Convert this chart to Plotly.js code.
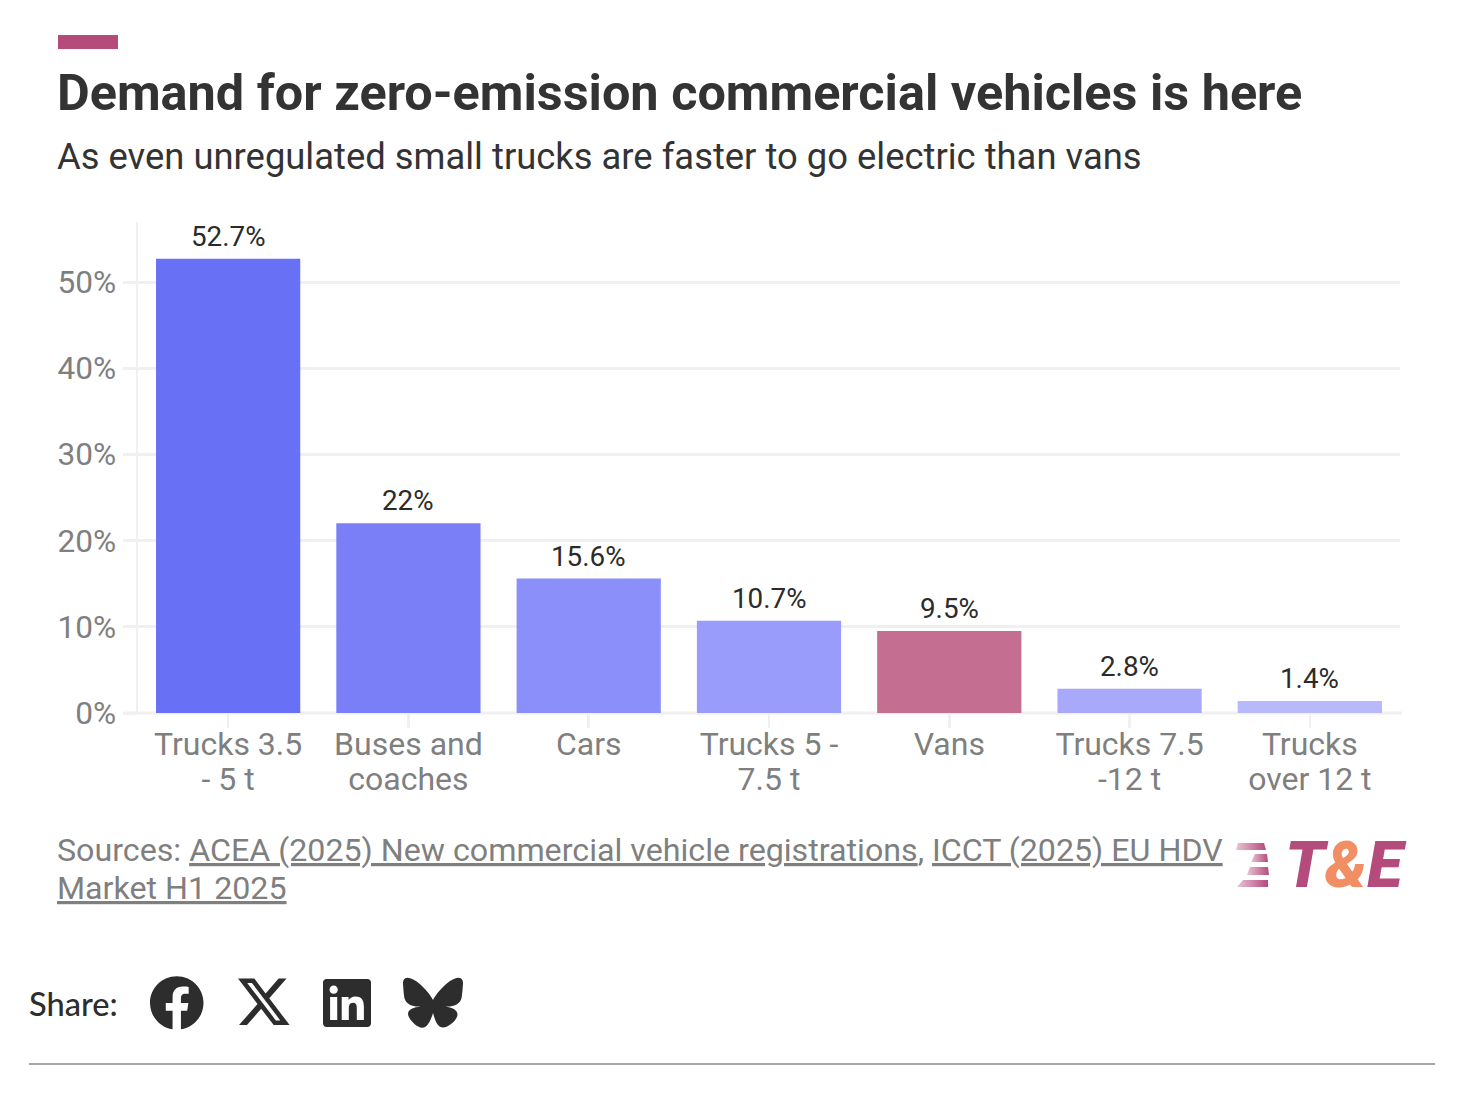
<!DOCTYPE html>
<html>
<head>
<meta charset="utf-8">
<script src="https://cdn.plot.ly/plotly-3.0.1.min.js"></script>
<style>
html,body{margin:0;padding:0;background:#fff;overflow:hidden}
#wrap{position:relative;width:1480px;height:1099px}
#chart{position:absolute;left:0;top:0;width:1480px;height:1099px}
svg.ov{position:absolute;overflow:visible}
</style>
</head>
<body>
<div id="wrap">
<div id="chart"></div>
<svg class="ov" style="left:0;top:0" width="1480" height="1099" viewBox="0 0 1480 1099">
  <defs>
    <linearGradient id="st" x1="0" x2="1" y1="0" y2="0">
      <stop offset="0" stop-color="#e9c3d5"/><stop offset="1" stop-color="#b44b7b"/>
    </linearGradient>
  </defs>
  <polygon fill="url(#st)" points="1238,843 1264,843 1266,850 1236,850"/>
  <polygon fill="url(#st)" points="1255,854 1267,854 1268,862 1251,862"/>
  <polygon fill="url(#st)" points="1250,867 1268,867 1269,875 1247,875"/>
  <polygon fill="url(#st)" points="1243,880 1268,880 1268,887 1237,887"/>
  <g fill="#2d2d2d">
    <path transform="translate(150,976) scale(2.23)" d="M24 12.073c0-6.627-5.373-12-12-12s-12 5.373-12 12c0 5.99 4.388 10.954 10.125 11.854v-8.385H7.078v-3.47h3.047V9.43c0-3.007 1.792-4.669 4.533-4.669 1.312 0 2.686.235 2.686.235v2.953H15.83c-1.491 0-1.956.925-1.956 1.874v2.25h3.328l-.532 3.47h-2.796v8.385C19.612 23.027 24 18.062 24 12.073z"/>
    <path transform="translate(238,976) scale(2.15)" d="M18.901 1.153h3.68l-8.04 9.19L24 22.846h-7.406l-5.8-7.584-6.638 7.584H.474l8.6-9.83L0 1.154h7.594l5.243 6.932ZM17.61 20.644h2.039L6.486 3.24H4.298Z"/>
    <path transform="translate(323,979) scale(2)" d="M20.447 20.452h-3.554v-5.569c0-1.328-.027-3.037-1.852-3.037-1.853 0-2.136 1.445-2.136 2.939v5.667H9.351V9h3.414v1.561h.046c.477-.9 1.637-1.85 3.37-1.85 3.601 0 4.267 2.37 4.267 5.455v6.286zM5.337 7.433c-1.144 0-2.063-.926-2.063-2.065 0-1.138.92-2.063 2.063-2.063 1.14 0 2.064.925 2.064 2.063 0 1.139-.925 2.065-2.064 2.065zm1.782 13.019H3.555V9h3.564v11.452zM22.225 0H1.771C.792 0 0 .774 0 1.729v20.542C0 23.227.792 24 1.771 24h20.451C23.2 24 24 23.227 24 22.271V1.729C24 .774 23.2 0 22.222 0h.003z"/>
    <path transform="translate(403,974.5) scale(2.5,2.35)" d="M12 10.8c-1.087-2.114-4.046-6.053-6.798-7.995C2.566.944 1.561 1.266.902 1.565.139 1.908 0 3.08 0 3.768c0 .69.378 5.65.624 6.479.815 2.736 3.713 3.66 6.383 3.364.136-.02.275-.039.415-.056-.138.022-.276.04-.415.056-3.912.58-7.387 2.005-2.83 7.078 5.013 5.19 6.87-1.113 7.823-4.308.953 3.195 2.05 9.271 7.733 4.308 4.267-4.308 1.172-6.498-2.74-7.078a8.741 8.741 0 0 1-.415-.056c.14.017.279.036.415.056 2.67.297 5.568-.628 6.383-3.364.246-.828.624-5.79.624-6.479 0-.688-.139-1.86-.902-2.202-.659-.299-1.664-.621-4.3 1.24C16.046 4.748 13.087 8.687 12 10.8Z"/>
  </g>
</svg>
</div>
<script>
// ---- data ----
const categories = ['Trucks 3.5<br>- 5 t','Buses and<br>coaches','Cars','Trucks 5 -<br>7.5 t','Vans','Trucks 7.5<br>-12 t','Trucks<br>over 12 t'];
const shares = [52.7, 22, 15.6, 10.7, 9.5, 2.8, 1.4];
const barLabels = ['52.7%','22%','15.6%','10.7%','9.5%','2.8%','1.4%'];
const barColors = ['#636cf6','#767bf8','#878bf9','#9699fa','#c2698d','#a6a6fc','#b6b6fd'];
const yTicks = [0,10,20,30,40,50];
const yTickLabels = ['0%','10%','20%','30%','40%','50%'];
const titleText = 'Demand for zero-emission commercial vehicles is here';
const subtitleText = 'As even unregulated small trucks are faster to go electric than vans';
const sourceLine1 = 'Sources: <u>ACEA (2025) New commercial vehicle registrations</u>, <u>ICCT (2025) EU HDV</u>';
const sourceLine2 = '<u>Market H1 2025</u>';
const shareText = 'Share:';

// ---- layout helpers ----
const W = 1480, H = 1099, L = 138, R = 1400, T = 222, B = 713;
const px = x => (x - L) / (R - L);
const py = y => (B - y) / (B - T);
const note = (text, x, y, size, color, extra) => Object.assign({
  text, xref:'paper', yref:'paper', x:px(x), y:py(y), xanchor:'left', yanchor:'middle',
  showarrow:false, align:'left', borderpad:0, font:{family:'Roboto', size, color}
}, extra||{});

const trace = {
  type:'bar', x:categories, y:shares, cliponaxis:false,
  marker:{color:barColors, opacity:0.97, line:{width:0}}, hoverinfo:'skip'
};

const valueNotes = barLabels.map((t,i)=>({
  text:t, xref:'x', yref:'y', x:categories[i], y:shares[i], xanchor:'center', yanchor:'bottom',
  yshift:5, showarrow:false, borderpad:0, font:{family:'Roboto', size:27.8, color:'#2b2b2b'}
}));

const layout = {
  width:W, height:H, margin:{l:L, r:W-R, t:T, b:H-B, pad:0},
  paper_bgcolor:'#fff', plot_bgcolor:'#fff', showlegend:false, bargap:0.2,
  font:{family:'Roboto'},
  title:{text:'<b>'+titleText+'</b>', xref:'container', yref:'container', x:57/W, xanchor:'left',
         y:1-92/H, yanchor:'middle', pad:{l:0,r:0,t:0,b:0}, font:{family:'Roboto', size:50.4, color:'#333333'}},
  xaxis:{type:'category', tickfont:{family:'Roboto', size:32, color:'#7f7f7f'}, ticks:'outside', ticklen:14, tickwidth:2.5,
         tickcolor:'#f0f0f0', showline:false, showgrid:false, zeroline:false, fixedrange:true, ticklabelstandoff:-11},
  yaxis:{range:[0,56.96], tickvals:yTicks, ticktext:yTickLabels, tickfont:{family:'Roboto', size:31.6, color:'#7f7f7f'},
         ticks:'outside', ticklen:13, tickwidth:3, tickcolor:'#f0f0f0', showline:true, linecolor:'#f0f0f0', linewidth:2.5,
         showgrid:true, gridcolor:'#f0f0f0', gridwidth:3, zeroline:false, fixedrange:true},
  shapes:[
    {type:'line', xref:'paper', yref:'paper', x0:px(125), x1:px(1402), y0:py(713), y1:py(713), line:{color:'#f0f0f0', width:3}, layer:'below'},
    {type:'rect', xref:'paper', yref:'paper', x0:px(58), x1:px(118), y0:py(35), y1:py(49), fillcolor:'#b44b7b', line:{width:0}},
    {type:'line', xref:'paper', yref:'paper', x0:px(29), x1:px(1435), y0:py(1064), y1:py(1064), line:{color:'#a6a6a6', width:2}}
  ],
  annotations:[
    ...valueNotes,
    note(subtitleText, 56, 156, 36.4, '#333333'),
    note(sourceLine1, 56, 850, 32.2, '#7f7f7f'),
    note(sourceLine2, 56, 888, 32.2, '#7f7f7f'),
    note(shareText, 28, 1003, 32.6, '#2d2d2d', {font:{family:'Lato', size:32.6, color:'#2d2d2d', weight:500}}),
    note('<i><span style="color:#b44b7b">T</span><span style="color:#f28e64">&amp;</span><span style="color:#b44b7b">E</span></i>', 1284, 865, 65, '#b44b7b', {font:{family:'Roboto', size:65, color:'#b44b7b', weight:900}})
  ]
};

Plotly.newPlot('chart',[trace],layout,{staticPlot:true, displayModeBar:false}).then(()=>{
  // tighten the two-line category labels to the reference's line height
  document.querySelectorAll('.xtick text tspan.line').forEach(t=>{
    const dy = parseFloat(t.getAttribute('dy')||'0');
    if(dy>0) t.setAttribute('dy', (35/32)+'em');
  });
});
</script>
</body>
</html>
